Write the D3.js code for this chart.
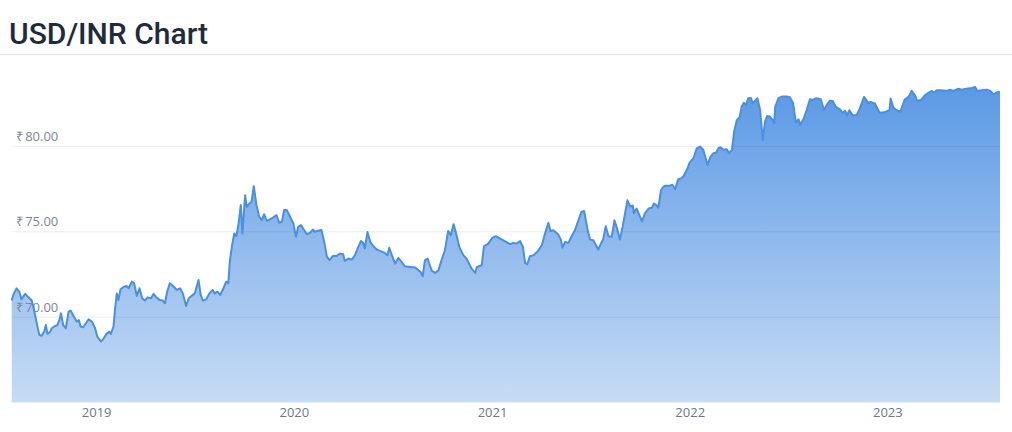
<!DOCTYPE html>
<html>
<head>
<meta charset="utf-8">
<script src="https://cdn.jsdelivr.net/npm/d3@7"></script>
<style>
  html, body { margin: 0; padding: 0; background: #fff; }
  svg { display: block; }
</style>
</head>
<body>
<div id="chart"></div>
<script>
const title = "USD/INR Chart";

const dates = [
"2018-07-29","2018-08-01","2018-08-07","2018-08-12","2018-08-16","2018-08-23","2018-08-29","2018-09-04","2018-09-07","2018-09-12",
"2018-09-18","2018-09-22","2018-09-27","2018-09-30","2018-10-03","2018-10-08","2018-10-11","2018-10-17","2018-10-21","2018-10-25",
"2018-10-28","2018-11-01","2018-11-06","2018-11-11","2018-11-15","2018-11-21","2018-11-26","2018-11-30","2018-12-03","2018-12-08",
"2018-12-13","2018-12-18","2018-12-24","2018-12-30","2019-01-03","2019-01-10","2019-01-15","2019-01-20","2019-01-25","2019-01-28",
"2019-02-02","2019-02-05","2019-02-08","2019-02-11","2019-02-15","2019-02-21","2019-02-26","2019-03-02","2019-03-08","2019-03-12",
"2019-03-17","2019-03-22","2019-03-27","2019-04-01","2019-04-06","2019-04-12","2019-04-17","2019-04-21","2019-04-28","2019-05-04",
"2019-05-08","2019-05-12","2019-05-17","2019-05-23","2019-05-30","2019-06-05","2019-06-10","2019-06-16","2019-06-21","2019-06-26",
"2019-07-02","2019-07-09","2019-07-13","2019-07-17","2019-07-23","2019-07-29","2019-08-04","2019-08-08","2019-08-13","2019-08-18",
"2019-08-24","2019-08-29","2019-09-02","2019-09-05","2019-09-09","2019-09-13","2019-09-17","2019-09-21","2019-09-25","2019-09-28",
"2019-10-03","2019-10-06","2019-10-11","2019-10-15","2019-10-19","2019-10-24","2019-10-29","2019-11-03","2019-11-07","2019-11-12",
"2019-11-18","2019-11-24","2019-11-30","2019-12-05","2019-12-10","2019-12-14","2019-12-19","2019-12-25","2019-12-31","2020-01-05",
"2020-01-09","2020-01-14","2020-01-20","2020-01-25","2020-01-31","2020-02-05","2020-02-09","2020-02-15","2020-02-21","2020-02-26",
"2020-03-02","2020-03-07","2020-03-13","2020-03-20","2020-03-26","2020-04-01","2020-04-04","2020-04-11","2020-04-17","2020-04-23",
"2020-04-29","2020-05-04","2020-05-08","2020-05-11","2020-05-16","2020-05-21","2020-05-27","2020-06-02","2020-06-08","2020-06-17",
"2020-06-22","2020-06-25","2020-06-30","2020-07-06","2020-07-12","2020-07-18","2020-07-24","2020-08-03","2020-08-12","2020-08-18",
"2020-08-22","2020-08-26","2020-08-30","2020-09-04","2020-09-07","2020-09-12","2020-09-18","2020-09-24","2020-09-30","2020-10-06",
"2020-10-12","2020-10-17","2020-10-22","2020-10-26","2020-11-02","2020-11-09","2020-11-15","2020-11-24","2020-12-01","2020-12-04",
"2020-12-13","2020-12-17","2020-12-25","2021-01-02","2021-01-08","2021-01-16","2021-01-22","2021-02-03","2021-02-09","2021-02-15",
"2021-02-22","2021-02-27","2021-03-03","2021-03-07","2021-03-12","2021-03-19","2021-03-27","2021-04-03","2021-04-09","2021-04-15",
"2021-04-19","2021-04-24","2021-05-03","2021-05-08","2021-05-11","2021-05-16","2021-05-22","2021-05-28","2021-06-03","2021-06-09",
"2021-06-15","2021-06-20","2021-06-26","2021-07-01","2021-07-07","2021-07-12","2021-07-16","2021-07-21","2021-07-25","2021-07-30",
"2021-08-04","2021-08-10","2021-08-15","2021-08-20","2021-08-25","2021-08-30","2021-09-03","2021-09-08","2021-09-13","2021-09-18",
"2021-09-20","2021-09-25","2021-09-30","2021-10-05","2021-10-10","2021-10-17","2021-10-23","2021-10-27","2021-11-01","2021-11-04",
"2021-11-09","2021-11-13","2021-11-16","2021-11-24","2021-11-30","2021-12-05","2021-12-11","2021-12-17","2021-12-21","2021-12-28",
"2022-01-01","2022-01-08","2022-01-14","2022-01-20","2022-01-26","2022-01-31","2022-02-03","2022-02-08","2022-02-14","2022-02-19",
"2022-02-23","2022-02-27","2022-03-04","2022-03-10","2022-03-15","2022-03-20","2022-03-24","2022-03-29","2022-04-03","2022-04-07",
"2022-04-11","2022-04-15","2022-04-19","2022-04-24","2022-04-27","2022-05-02","2022-05-06","2022-05-11","2022-05-16","2022-05-20",
"2022-05-24","2022-05-29","2022-06-03","2022-06-06","2022-06-08","2022-06-14","2022-06-20","2022-06-29","2022-07-05","2022-07-11",
"2022-07-16","2022-07-21","2022-07-24","2022-07-30","2022-08-05","2022-08-11","2022-08-16","2022-08-23","2022-08-31","2022-09-06",
"2022-09-11","2022-09-17","2022-09-22","2022-09-28","2022-10-06","2022-10-10","2022-10-15","2022-10-18","2022-10-23","2022-10-29",
"2022-11-05","2022-11-11","2022-11-19","2022-11-27","2022-12-01","2022-12-09","2022-12-18","2022-12-28","2023-01-05","2023-01-07",
"2023-01-12","2023-01-18","2023-01-25","2023-02-02","2023-02-09","2023-02-15","2023-02-21","2023-02-25","2023-03-05","2023-03-11",
"2023-03-18","2023-03-24","2023-03-28","2023-04-02","2023-04-11","2023-04-20","2023-04-27","2023-05-03","2023-05-12","2023-05-18",
"2023-05-27","2023-06-06","2023-06-12","2023-06-16","2023-06-24","2023-07-03","2023-07-10","2023-07-16","2023-07-22","2023-07-28"
];

const rates = [
70.94,71.27,71.66,71.46,71.01,71.33,71.13,70.94,70.58,69.80,
68.93,68.87,69.12,69.51,68.99,69.12,69.32,69.45,69.49,69.80,
70.19,69.51,69.32,70.29,70.35,70.00,69.71,69.80,69.42,69.38,
69.61,69.84,69.71,69.32,68.83,68.54,68.73,68.99,69.12,68.99,
69.42,70.49,71.36,70.97,71.60,71.75,71.79,71.66,72.05,71.95,
71.21,71.66,71.07,70.94,71.13,71.07,71.33,71.17,70.97,70.94,
70.78,71.46,71.95,71.79,71.56,71.66,71.36,70.62,71.07,71.21,
71.36,72.14,71.27,70.94,71.01,71.36,71.56,71.36,71.46,71.27,
71.66,72.05,71.95,73.31,74.19,74.87,74.72,75.46,76.53,74.87,
77.11,76.43,76.63,76.73,77.64,76.53,75.85,75.65,76.00,75.61,
75.69,75.81,75.95,75.50,75.56,76.24,76.24,75.85,75.46,74.68,
75.26,75.36,75.07,74.83,74.91,75.10,74.97,75.03,75.07,74.39,
73.51,73.31,73.55,73.55,73.69,73.65,73.27,73.40,73.34,73.60,
74.08,74.43,74.32,73.99,74.96,74.38,74.12,73.93,73.85,73.73,
73.60,74.04,73.60,73.11,73.44,73.21,72.95,72.91,72.88,72.72,
72.62,72.37,73.30,73.40,73.11,72.68,72.56,72.72,73.34,73.89,
75.02,74.77,75.41,74.96,74.04,73.60,73.40,72.82,72.56,72.91,
73.01,74.12,74.28,74.63,74.71,74.57,74.47,74.24,74.32,74.28,
74.42,74.08,73.15,73.07,73.54,73.60,73.85,74.18,74.90,75.49,
75.02,75.06,74.82,74.51,74.04,74.38,74.32,74.71,75.06,75.60,
76.13,76.19,75.16,74.51,74.47,74.18,73.93,74.28,74.51,75.29,
74.71,74.67,75.64,75.16,74.51,75.25,75.94,76.81,76.45,76.50,
76.07,76.33,75.94,75.58,76.03,76.33,76.38,76.62,76.52,76.38,
77.40,77.59,77.66,77.66,77.72,77.47,78.05,78.11,78.25,78.69,
79.03,79.28,79.86,79.96,79.77,79.22,78.89,79.34,79.57,79.61,
79.86,79.92,79.77,79.81,79.57,79.77,80.84,81.52,81.66,82.30,
82.53,82.40,82.79,82.81,82.50,82.65,82.79,82.10,80.35,81.42,
81.75,81.72,81.52,81.33,82.30,82.79,82.89,82.89,82.85,82.50,
81.36,81.56,81.23,81.56,82.10,82.73,82.69,82.79,82.73,82.10,
82.40,82.65,82.63,82.28,82.12,81.93,82.05,81.79,82.09,81.79,
81.79,82.18,82.87,82.51,82.57,82.48,81.93,81.99,82.09,82.77,
82.24,82.09,81.99,82.71,82.87,83.22,82.96,82.63,82.71,82.96,
83.10,83.22,83.10,83.26,83.26,83.22,83.29,83.22,83.35,83.29,
83.35,83.39,83.45,83.22,83.26,83.29,83.22,83.02,83.14,83.16
];

const yTicks = [70, 75, 80];
const yDomain = [65, 85];
const xTickYears = [2019, 2020, 2021, 2022, 2023];

const W = 1012, H = 432;
const plot = { left: 11.7, right: 1000, top: 60.5, bottom: 402 };

const parse = d3.timeParse("%Y-%m-%d");
const data = dates.map((d, i) => ({ date: parse(d), value: rates[i] }));

const x = d3.scaleTime()
  .domain(d3.extent(data, d => d.date))
  .range([plot.left, plot.right]);
const y = d3.scaleLinear()
  .domain(yDomain)
  .range([plot.bottom, plot.top]);

const svg = d3.select("#chart").append("svg")
  .attr("width", W).attr("height", H);

// Title
svg.append("text")
  .attr("x", 9).attr("y", 44)
  .attr("font-family", "Roboto, sans-serif")
  .attr("font-weight", 500)
  .attr("font-size", 30)
  .attr("fill", "#1e2b3c")
  .text(title);

svg.append("line")
  .attr("x1", 0).attr("x2", W)
  .attr("y1", 54.5).attr("y2", 54.5)
  .attr("stroke", "#e2e4e9").attr("stroke-width", 1);

// Gradient
const defs = svg.append("defs");
const grad = defs.append("linearGradient")
  .attr("id", "areaGrad")
  .attr("gradientUnits", "userSpaceOnUse")
  .attr("x1", 0).attr("x2", 0)
  .attr("y1", y(d3.max(rates))).attr("y2", plot.bottom);
grad.append("stop").attr("offset", "0%").attr("stop-color", "#5b99e5");
grad.append("stop").attr("offset", "100%").attr("stop-color", "#c7dcf5");

// Area
const area = d3.area()
  .x(d => x(d.date))
  .y0(plot.bottom)
  .y1(d => y(d.value));
svg.append("path")
  .datum(data)
  .attr("d", area)
  .attr("fill", "url(#areaGrad)");

// Bottom edge
svg.append("line")
  .attr("x1", plot.left).attr("x2", plot.right)
  .attr("y1", plot.bottom + 0.5).attr("y2", plot.bottom + 0.5)
  .attr("stroke", "#e4edf9").attr("stroke-width", 1);

// Grid lines
const yAxis = d3.axisLeft(y)
  .tickValues(yTicks)
  .tickSize(-(plot.right - plot.left))
  .tickFormat("");
const gy = svg.append("g")
  .attr("transform", `translate(${plot.left},0)`)
  .call(yAxis);
gy.select(".domain").remove();
gy.selectAll(".tick line")
  .attr("stroke", "#000").attr("stroke-opacity", 0.07);

// Y labels
svg.append("g").selectAll("text")
  .data(yTicks)
  .join("text")
  .attr("x", 16)
  .attr("y", d => y(d) - 5)
  .attr("font-family", "'Open Sans', sans-serif")
  .attr("font-size", 13)
  .attr("fill", "#7a869a")
  .text(d => "₹\u2009" + d3.format(".2f")(d));

// Line
const line = d3.line()
  .x(d => x(d.date))
  .y(d => y(d.value));
svg.append("path")
  .datum(data)
  .attr("d", line)
  .attr("fill", "none")
  .attr("stroke", "#4a8fe2")
  .attr("stroke-width", 2)
  .attr("stroke-linejoin", "round");

// X axis labels
const xAxis = d3.axisBottom(x)
  .tickValues(xTickYears.map(yr => new Date(yr, 0, 1)))
  .tickSize(0)
  .tickPadding(0)
  .tickFormat(d3.timeFormat("%Y"));
const gx = svg.append("g")
  .attr("transform", `translate(0,${plot.bottom})`)
  .call(xAxis);
gx.select(".domain").remove();
gx.selectAll(".tick text")
  .attr("dy", 0)
  .attr("y", 15)
  .attr("font-family", "'Open Sans', sans-serif")
  .attr("font-size", 13)
  .attr("fill", "#6b778b");
</script>
</body>
</html>
